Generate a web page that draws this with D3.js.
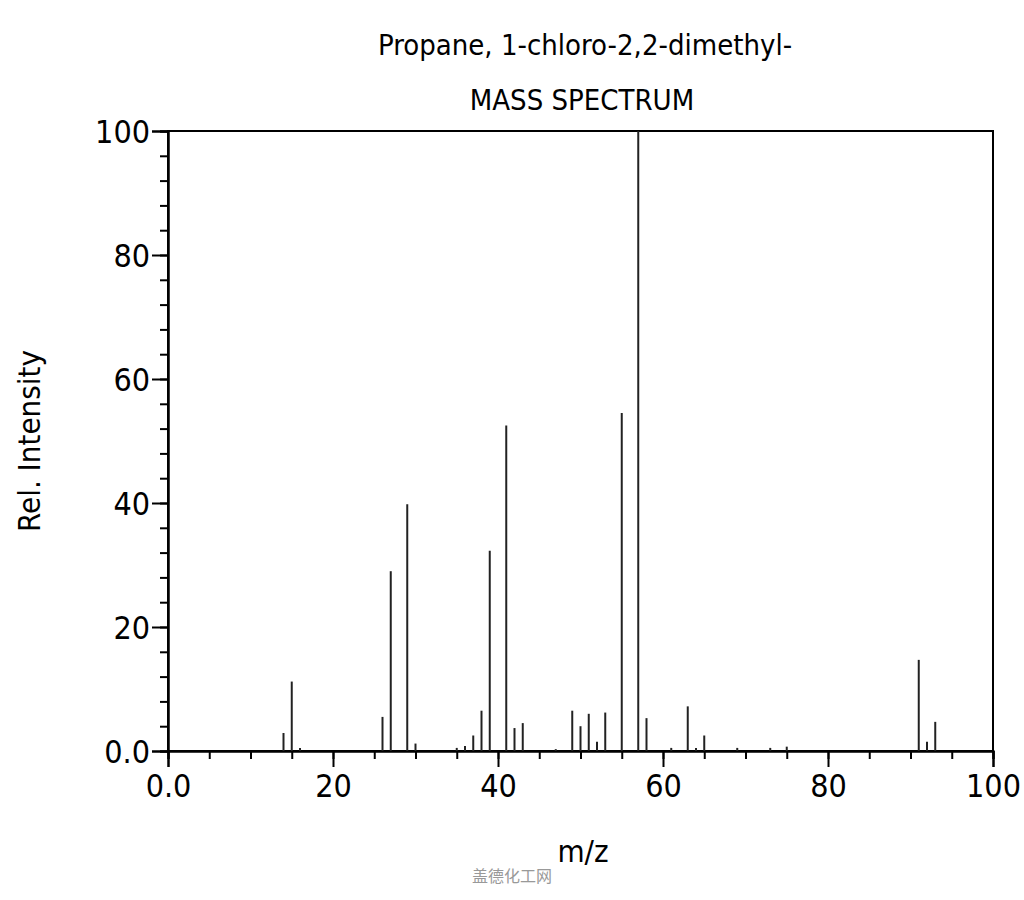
<!DOCTYPE html>
<html><head><meta charset="utf-8">
<script src="https://cdn.jsdelivr.net/npm/d3@7"></script>
<style>body{margin:0;background:#fff}</style></head>
<body><svg id="c" width="1024" height="900"></svg>
<script>
const mz =        [14,15,16,26,27,29,30,35,36,37,38,39,41,42,43,47,49,50,51,52,53,55,57,58,61,63,64,65,69,73,75,91,92,93];
const intensity = [2.9,11.2,0.5,5.5,29,39.8,1.2,0.5,0.8,2.5,6.5,32.3,52.5,3.7,4.5,0.3,6.5,4,6,1.5,6.2,54.5,100,5.3,0.5,7.2,0.5,2.5,0.5,0.5,0.7,14.7,1.5,4.7];
const xTicks = [0,20,40,60,80,100];
const yTicks = [0,20,40,60,80,100];
const svg = d3.select("#c");
const F = "DejaVu Sans Condensed, DejaVu Sans, sans-serif";
const x = d3.scaleLinear().domain([0,100]).range([168,993]);
const y = d3.scaleLinear().domain([0,100]).range([751,131]);
svg.append("rect").attr("x",168).attr("y",131).attr("width",825).attr("height",620)
  .attr("fill","none").attr("stroke","#000").attr("stroke-width",2);
svg.append("g").attr("transform","translate(0,751)")
  .call(d3.axisBottom(x).tickValues(d3.range(0,101,5)).tickSize(8).tickFormat(""));
const xa2 = svg.append("g").attr("transform","translate(0,751)")
  .call(d3.axisBottom(x).tickValues(xTicks).tickSize(16).tickFormat((d)=>d===0?"0.0":d));
svg.append("g").attr("transform","translate(168,0)")
  .call(d3.axisLeft(y).tickValues(d3.range(0,101,4)).tickSize(8).tickFormat(""));
const ya2 = svg.append("g").attr("transform","translate(168,0)")
  .call(d3.axisLeft(y).tickValues(yTicks).tickSize(16).tickFormat((d)=>d===0?"0.0":d));
svg.selectAll(".domain").attr("stroke","#000").attr("stroke-width",2);
svg.selectAll(".tick line").attr("stroke","#000").attr("stroke-width",2);
svg.selectAll(".tick text").attr("font-family",F).attr("font-size",32).attr("fill","#000");
xa2.selectAll(".tick text").attr("dy","0.85em");
ya2.selectAll(".tick text").attr("dy","0.36em").attr("x",-18);
svg.append("g").selectAll("line").data(mz).join("line")
  .attr("x1",(d)=>x(d)).attr("x2",(d)=>x(d))
  .attr("y1",y(0)).attr("y2",(d,i)=>y(intensity[i]))
  .attr("stroke","#222").attr("stroke-width",2);
svg.append("text").attr("x",585).attr("y",55).attr("text-anchor","middle")
  .attr("font-family",F).attr("font-size",29).text("Propane, 1-chloro-2,2-dimethyl-");
svg.append("text").attr("x",582).attr("y",110).attr("text-anchor","middle")
  .attr("font-family",F).attr("font-size",29).text("MASS SPECTRUM");
svg.append("text").attr("x",583).attr("y",862).attr("text-anchor","middle")
  .attr("font-family",F).attr("font-size",31).text("m/z");
svg.append("text").attr("transform","translate(40,441) rotate(-90)").attr("text-anchor","middle")
  .attr("font-family",F).attr("font-size",31).text("Rel. Intensity");
svg.append("text").attr("x",512).attr("y",882).attr("text-anchor","middle")
  .attr("font-family","Noto Sans CJK SC").attr("font-size",16).attr("fill","#999").text("盖德化工网");
</script></body></html>
